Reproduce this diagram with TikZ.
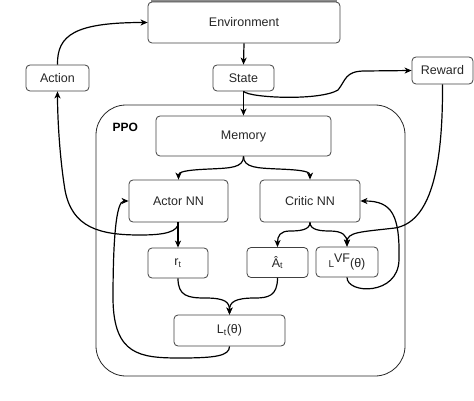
\documentclass[tikz,border=0pt]{standalone}
\usepackage{fontspec}
\setmainfont{Liberation Sans}
\usetikzlibrary{arrows.meta}
\begin{document}
\begin{tikzpicture}[x=1pt,y=-1pt,
  box/.style={draw=black!75,line width=0.8pt,rounded corners=4pt,inner sep=0pt,
    font=\fontsize{12.5}{14}\selectfont,text=black!85},
  arr/.style={line width=1.2pt,-{Stealth[length=7pt,width=6pt,inset=2pt]}},
  ln/.style={line width=1.2pt}]
\useasboundingbox (0,0) rectangle (474,401);
\fill[black!45] (151,0) rectangle (337,1.6);
% PPO container
\draw[black!85,line width=0.8pt,rounded corners=30pt] (96,105) rectangle (405,376);
\node[font=\bfseries\fontsize{12}{14}\selectfont,anchor=west] (ppo) at (109,127) {PPO};
% nodes
\node[box,minimum width=192pt,minimum height=41pt] (env) at (244,22.5) {Environment};
\node[box,minimum width=61pt,minimum height=26pt] (state) at (243.5,78) {State};
\node[box,minimum width=63pt,minimum height=26pt] (action) at (57.5,78) {Action};
\node[box,minimum width=61pt,minimum height=27pt] (reward) at (442.5,70.5) {Reward};
\node[box,minimum width=175pt,minimum height=40pt] (memory) at (243.5,136) {Memory};
\node[box,minimum width=99pt,minimum height=42pt] (actor) at (178.5,201) {Actor NN};
\node[box,minimum width=100pt,minimum height=42pt] (critic) at (310,201) {Critic NN};
\node[box,minimum width=60pt,minimum height=30pt] (rt) at (178,263) {r\textsubscript{t}};
\node[box,minimum width=61pt,minimum height=30pt] (at) at (277.5,262.5) {Â\textsubscript{t}};
\node[box,minimum width=62pt,minimum height=30pt] (lvf) at (347,262) {\raisebox{-2.5pt}{\fontsize{10}{12}\selectfont L}\raisebox{3pt}{VF}\raisebox{-2.5pt}{(θ)}};
\node[box,minimum width=111pt,minimum height=31pt] (lt) at (229.5,330.5) {L\textsubscript{t}(θ)};
% connectors
\draw[arr] (env.south) -- (state.north);
\draw[arr] (state.south) -- (memory.north);
\draw[arr] (state.south) .. controls (250,98) and (320,101) .. (338,90)
  .. controls (346,80) and (345,71) .. (365,71) -- (reward.west);
\draw[arr] (action.north) .. controls (57,35) and (75,22.5) .. (env.west);
\draw[arr] (actor.south) .. controls (178,232) and (165,235) .. (140,235)
  .. controls (100,235) and (72,228) .. (65,190)
  .. controls (60,160) and (57.5,120) .. (action.south);
\draw[arr] (memory.south) .. controls (243.5,168) and (230,168) .. (210,169)
  .. controls (185,170) and (178.5,172) .. (actor.north);
\draw[arr] (memory.south) .. controls (243.5,168) and (258,168) .. (278,169)
  .. controls (305,170) and (310,172) .. (critic.north);
\draw[arr] (actor.south -| rt.north) -- (rt.north);
\draw[arr] (critic.south) .. controls (310,230) and (300,231) .. (290,231)
  .. controls (280,231) and (277.5,236) .. (at.north);
\draw[arr] (critic.south) .. controls (310,230) and (320,231) .. (330,231)
  .. controls (343,231) and (347,236) .. (lvf.north);
\draw[arr] (reward.south) .. controls (443,170) and (430,222) .. (395,228)
  .. controls (360,232) and (347,232) .. (lvf.north);
\draw[arr] (lvf.south) .. controls (347,294) and (398,296) .. (399,260)
  .. controls (400,215) and (392,201) .. (critic.east);
\draw[arr] (rt.south) .. controls (178,296) and (188,298) .. (205,298)
  .. controls (225,298) and (229.5,302) .. (lt.north);
\draw[arr] (at.south) .. controls (277.5,296) and (268,298) .. (255,298)
  .. controls (235,298) and (229.5,302) .. (lt.north);
\draw[arr] (lt.south) .. controls (229.5,356) and (215,358) .. (180,358)
  .. controls (140,358) and (114,355) .. (113,300)
  .. controls (113,240) and (116,201) .. (actor.west);
\end{tikzpicture}
\end{document}
